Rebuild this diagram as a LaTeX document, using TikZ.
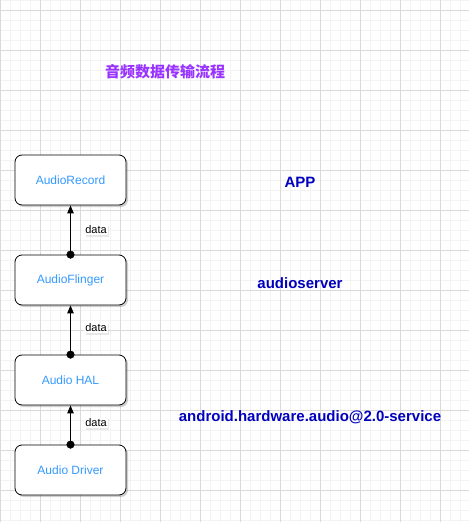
\documentclass[tikz,border=0pt]{standalone}
\usepackage{fontspec}
\setmainfont{Liberation Sans}
\newfontfamily\cjkfont{Noto Sans CJK SC}
\usetikzlibrary{arrows.meta,shadows}

\definecolor{boxblue}{RGB}{51,153,255}
\definecolor{procblue}{RGB}{0,0,190}
\definecolor{titlepurple}{RGB}{153,51,255}
\definecolor{minorgrid}{RGB}{243,243,243}
\definecolor{majorgrid}{RGB}{218,218,218}

\begin{document}
\begin{tikzpicture}[%
      x=1pt, y=-1pt,
      layerbox/.style={draw=black, line width=0.8pt, rounded corners=7pt, fill=white,
        minimum width=111pt, minimum height=50pt, inner sep=0pt,
        font=\fontsize{12}{14}\selectfont, text=boxblue,
        drop shadow={shadow xshift=2pt, shadow yshift=-2pt, opacity=0.3, fill=black!60}},
      flow/.style={draw=black, line width=1pt, -{Triangle[length=8pt,width=6.5pt]}},
      datalabel/.style={fill=white, inner sep=1pt, font=\fontsize{11}{13}\selectfont,
        drop shadow={shadow xshift=1.5pt, shadow yshift=-1.5pt, opacity=0.15, fill=black!60}},
      procname/.style={text=procblue, font=\bfseries\fontsize{15}{18}\selectfont},
      ]
      \useasboundingbox (0,0) rectangle (469,522);
      \fill [white] (0,0) rectangle (469,522);
      % grid
      \foreach \gx in {0,10,...,460} \draw [minorgrid, line width=0.8pt] (\gx,0) -- (\gx,522);
      \foreach \gy in {0,10,...,520} \draw [minorgrid, line width=0.8pt] (0,\gy) -- (469,\gy);
      \foreach \gx in {0,40,...,440} \draw [majorgrid, line width=0.8pt] (\gx,0) -- (\gx,522);
      \foreach \gy in {10,50,...,490} \draw [majorgrid, line width=0.8pt] (0,\gy) -- (469,\gy);

      \node [text=titlepurple, font=\cjkfont\bfseries\fontsize{15}{18}\selectfont] (title) at (165,72) {音频数据传输流程};

      \node [layerbox] (record) at (70.5,180) {AudioRecord};
      \node [layerbox] (flinger) at (70.5,280) {AudioFlinger};
      \node [layerbox] (hal) at (70.5,380) {Audio HAL};
      \node [layerbox] (driver) at (70.5,470) {Audio Driver};

      \draw [flow] (flinger.north) -- (record.south);
      \draw [flow] (hal.north) -- (flinger.south);
      \draw [flow] (driver.north) -- (hal.south);

      \filldraw [black] (flinger.north) circle (3.8pt);
      \filldraw [black] (hal.north) circle (3.8pt);
      \filldraw [black] (driver.north) circle (3.8pt);

      \node [datalabel] (data1) at (96,230) {data};
      \node [datalabel] (data2) at (96,328) {data};
      \node [datalabel] (data3) at (96,423) {data};

      \node [procname] (app) at (300,182) {APP};
      \node [procname] (server) at (300,283) {audioserver};
      \node [procname] (service) at (310,417) {android.hardware.audio@2.0-service};
      \end{tikzpicture}
\end{document}
